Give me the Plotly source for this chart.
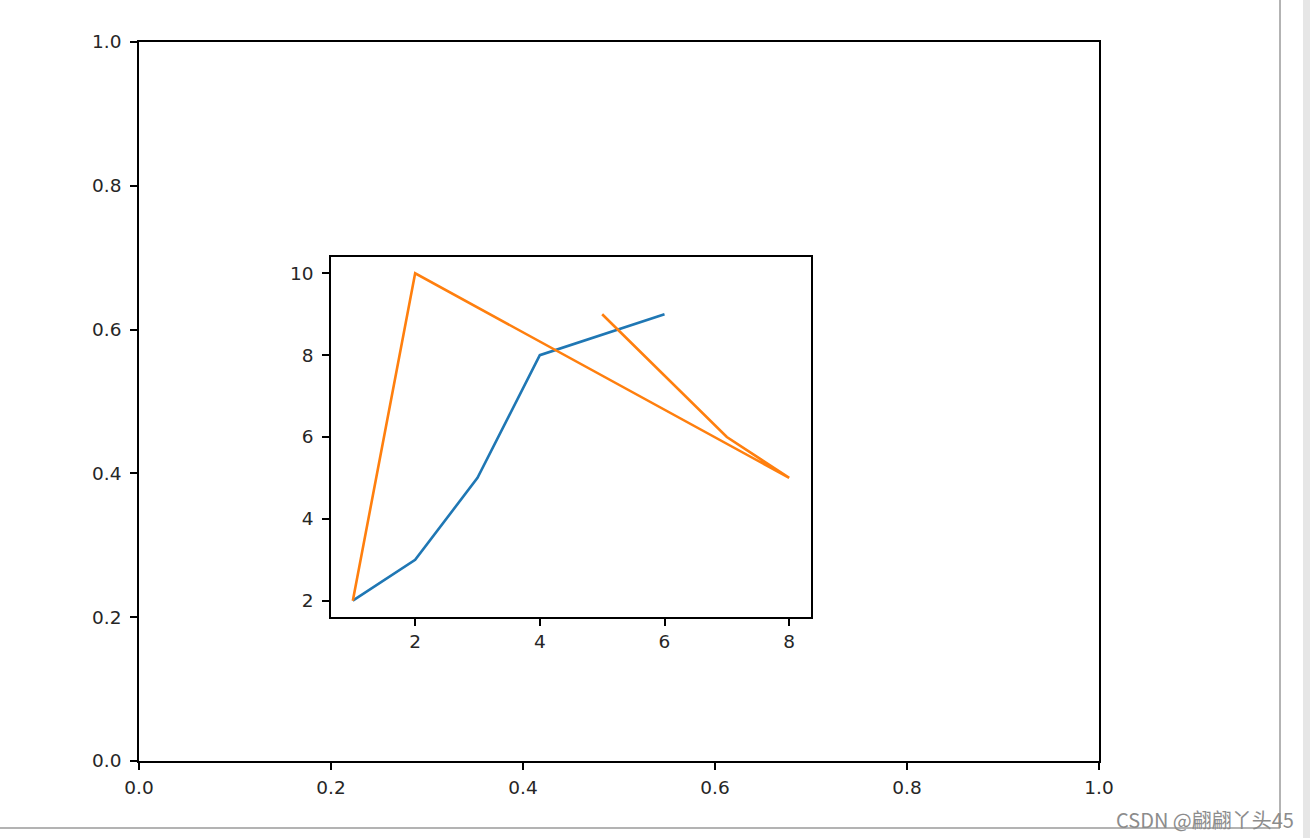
import plotly.graph_objects as go

# inset data
blue_x = [1, 2, 3, 4, 6]
blue_y = [2, 3, 5, 8, 9]
orange_x = [1, 2, 8, 7, 5]
orange_y = [2, 10, 5, 6, 9]

outer_ticks = [0.0, 0.2, 0.4, 0.6, 0.8, 1.0]
inset_xticks = [2, 4, 6, 8]
inset_yticks = [2, 4, 6, 8, 10]

W, H = 1310, 838


def px_x(p):
    return p / W


def px_y(p):
    return 1 - p / H


font = dict(family="DejaVu Sans", size=18.5, color="#262626")

axis_common = dict(
    showgrid=False,
    zeroline=False,
    showline=True,
    linecolor="black",
    linewidth=1.6,
    mirror=True,
    ticks="outside",
    ticklen=7,
    tickwidth=1.6,
    tickcolor="black",
    tickfont=font,
    fixedrange=True,
    automargin=False,
)

fig = go.Figure()

# empty trace so the big outer axes get drawn
fig.add_trace(go.Scatter(x=[], y=[], xaxis="x", yaxis="y", showlegend=False))

fig.add_trace(go.Scatter(
    x=blue_x, y=blue_y, mode="lines", xaxis="x2", yaxis="y2",
    line=dict(color="#1f77b4", width=2.6), showlegend=False,
))
fig.add_trace(go.Scatter(
    x=orange_x, y=orange_y, mode="lines", xaxis="x2", yaxis="y2",
    line=dict(color="#ff7f0e", width=2.6), showlegend=False,
))

fig.update_layout(
    width=W,
    height=H,
    margin=dict(l=0, r=0, t=0, b=0, autoexpand=False),
    paper_bgcolor="white",
    plot_bgcolor="white",
    xaxis=dict(
        axis_common, domain=[px_x(139), px_x(1099)], range=[0, 1],
        tickvals=outer_ticks, tickformat=".1f", anchor="y",
        ticklabelstandoff=2,
    ),
    yaxis=dict(
        axis_common, domain=[px_y(761), px_y(42)], range=[0, 1],
        tickvals=outer_ticks, tickformat=".1f", anchor="x",
        ticklabelstandoff=5,
    ),
    xaxis2=dict(
        axis_common, domain=[px_x(331), px_x(811)], range=[0.65, 8.35],
        tickvals=inset_xticks, anchor="y2", ticklabelstandoff=0,
    ),
    yaxis2=dict(
        axis_common, domain=[px_y(617), px_y(257)], range=[1.6, 10.4],
        tickvals=inset_yticks, anchor="x2", ticklabelstandoff=5,
    ),
)

# page frame seen in the screenshot (right scrollbar strip and borders)
fig.add_shape(type="rect", xref="paper", yref="paper",
              x0=px_x(1303), x1=1, y0=0, y1=1,
              fillcolor="#e6e6e6", line=dict(width=0), layer="below")
fig.add_shape(type="line", xref="paper", yref="paper",
              x0=px_x(1280), x1=px_x(1280), y0=px_y(828), y1=1,
              line=dict(color="#9a9a9a", width=1.5))
fig.add_shape(type="line", xref="paper", yref="paper",
              x0=0, x1=px_x(1280), y0=px_y(828), y1=px_y(828),
              line=dict(color="#9a9a9a", width=1.5))

# watermark
fig.add_annotation(
    text="CSDN @翩翩丫头45", xref="paper", yref="paper",
    x=px_x(1296), y=px_y(819), xanchor="right", yanchor="middle",
    showarrow=False,
    font=dict(family="Noto Sans CJK SC", size=20, color="#8c8c8c"),
)

fig.write_html(
    "out.html",
    config={"displayModeBar": False},
    post_script="document.body.style.margin='0';"
                "document.body.style.overflow='hidden';",
)
